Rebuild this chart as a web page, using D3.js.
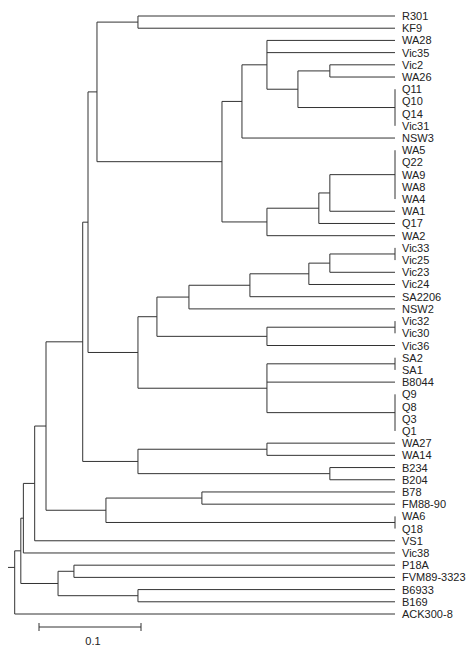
<!DOCTYPE html>
<html><head><meta charset="utf-8">
<script src="https://cdn.jsdelivr.net/npm/d3@7"></script>
<style>body{margin:0;background:#fff}text{font-family:"Liberation Sans",Arial,sans-serif;font-size:11px;fill:#222}</style>
</head><body><svg id="c" width="474" height="651"></svg>
<script>
'use strict'
// node depths (substitutions/site from root), tips are aligned at TIP
var TIP = 0.373;
var tipNames = ["R301","KF9","WA28","Vic35","Vic2","WA26","Q11","Q10","Q14","Vic31","NSW3","WA5","Q22","WA9","WA8","WA4","WA1","Q17","WA2","Vic33","Vic25","Vic23","Vic24","SA2206","NSW2","Vic32","Vic30","Vic36","SA2","SA1","B8044","Q9","Q8","Q3","Q1","WA27","WA14","B234","B204","B78","FM88-90","WA6","Q18","VS1","Vic38","P18A","FVM89-3323","B6933","B169","ACK300-8"];
function n(d, c) { return {d: d, c: c}; }
var tree =
n(0, [
  n(0.006, [
    n(0.0085, [
      n(0.0196, [
        n(0.0307, [
          n(0.0667, [
            n(0.0719, [
              n(0.0807, [
                n(0.1209, ["R301","KF9"]),
                n(0.2033, [
                  n(0.2229, [
                    n(0.2474, ["WA28","Vic35",
                      n(0.2778, [n(0.3091, ["Vic2","WA26"]), n(TIP, ["Q11","Q10","Q14","Vic31"])])]),
                    "NSW3"]),
                  n(0.2474, [
                    n(0.2983, [n(0.3091, [n(TIP, ["WA5","Q22","WA9","WA8","WA4"]), "WA1"]), "Q17"]),
                    "WA2"])
                ])
              ]),
              n(0.1209, [
                n(0.1395, [
                  n(0.1709, [
                    n(0.2307, [n(0.2885, [n(0.3091, [n(TIP, ["Vic33","Vic25"]), "Vic23"]), "Vic24"]), "SA2206"]),
                    "NSW2"]),
                  n(0.2474, [n(TIP, ["Vic32","Vic30"]), "Vic36"])
                ]),
                n(0.2474, [n(TIP, ["SA2","SA1"]), "B8044", n(TIP, ["Q9","Q8","Q3","Q1"])])
              ])
            ]),
            n(0.1209, [n(0.2474, ["WA27","WA14"]), n(0.3091, ["B234","B204"])])
          ]),
          n(0.0895, [n(0.1836, ["B78","FM88-90"]), n(TIP, ["WA6","Q18"])])
        ]),
        "VS1"]),
      "Vic38"]),
    n(0.0425, [n(0.0581, ["P18A","FVM89-3323"]), n(0.1209, ["B6933","B169"])])
  ]),
  "ACK300-8"]);
var scaleBar = 0.1;

var svg = d3.select("#c");
var x = d3.scaleLinear().domain([0, TIP]).range([14.7, 395]);
var y = d3.scalePoint().domain(tipNames).range([16, 614]);
var g = svg.append("g").attr("stroke", "#333").attr("stroke-width", 1).attr("fill", "none");

function draw(node) {
	if (typeof node === "string") return {x: x(TIP), y: y(node)};
	var px = x(node.d);
	var kids = node.c.map(draw);
	var y0 = kids[0].y, y1 = kids[kids.length - 1].y;
	g.append("line").attr("x1", px).attr("x2", px).attr("y1", y0).attr("y2", y1);
	kids.forEach(function(k) {
		if (k.x > px) g.append("line").attr("x1", px).attr("x2", k.x).attr("y1", k.y).attr("y2", k.y);
	});
	return {x: px, y: (y0 + y1) / 2};
}
var root = draw(tree);
// root stub
g.append("line").attr("x1", 8).attr("x2", x(0)).attr("y1", root.y - 15).attr("y2", root.y - 15);

svg.selectAll("text.tip").data(tipNames).enter().append("text")
	.attr("class", "tip").attr("x", 402).attr("y", function(d) { return y(d) + 4; })
	.attr("fill", "#222").text(function(d) { return d; });

// scale bar
var sx = d3.scaleLinear().domain([0, 0.1]).range([39, 141]);
var sb = svg.append("g").attr("stroke", "#333");
sb.append("line").attr("x1", sx(0)).attr("x2", sx(scaleBar)).attr("y1", 627).attr("y2", 627);
[0, scaleBar].forEach(function(v) {
	sb.append("line").attr("x1", sx(v)).attr("x2", sx(v)).attr("y1", 623).attr("y2", 631);
});
svg.append("text").attr("x", 93).attr("y", 645).attr("text-anchor", "middle")
	.attr("fill", "#222").text(String(scaleBar));
</script></body></html>
